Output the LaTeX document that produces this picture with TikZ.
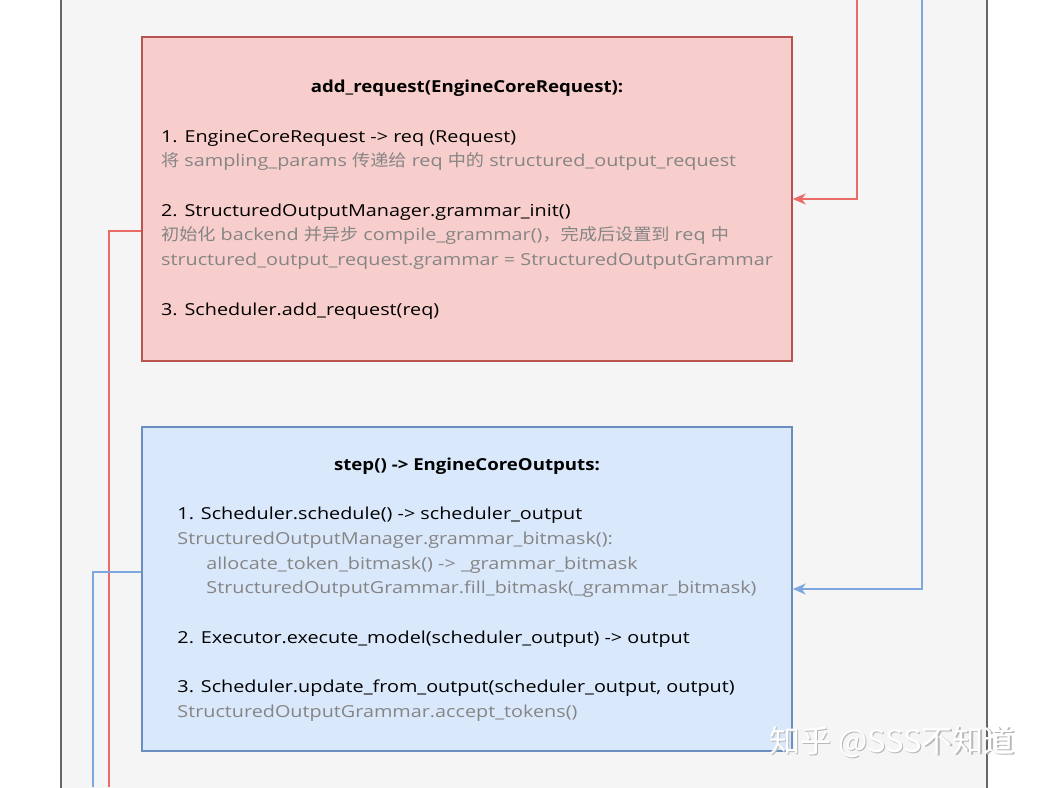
\documentclass[tikz,border=0pt]{standalone}
\usepackage{fontspec}
\setmainfont{Open Sans}[FakeStretch=1.2]
\newfontfamily\headfont{Open Sans}[FakeStretch=1.13]
\newfontfamily\cjk{Noto Sans CJK SC}[FakeStretch=1.1]
\newfontfamily\markfont{Noto Sans CJK SC}
\usetikzlibrary{arrows.meta}

\definecolor{panelfill}{HTML}{F5F5F5}
\definecolor{panelline}{HTML}{666666}
\definecolor{redfill}{HTML}{F8CECC}
\definecolor{redline}{HTML}{B85450}
\definecolor{redwire}{HTML}{EA6B66}
\definecolor{bluefill}{HTML}{DAE8FC}
\definecolor{blueline}{HTML}{6C8EBF}
\definecolor{bluewire}{HTML}{7EA6E0}
\definecolor{notegray}{HTML}{858585}

\newcommand{\zh}[1]{{\cjk #1}}
\newcommand{\grey}[1]{\textcolor{notegray}{#1}}
\newcommand{\head}[1]{{\headfont\bfseries #1}}

\begin{document}
\begin{tikzpicture}[x=1pt,y=-1pt,
  codebox/.style={rectangle,line width=1.5pt,minimum width=650pt,minimum height=324pt,inner sep=0pt,
    font=\fontsize{16.5}{24.7}\selectfont},
  wire/.style={line width=1.3pt},
  tip/.style={-{Stealth[length=13pt,width=11pt,inset=4pt]}}]
  \useasboundingbox (0,0) rectangle (1048,787);
  \fill[white] (0,0) rectangle (1048,787);
  \draw[fill=panelfill,draw=panelline,line width=1.5pt] (61,-20) rectangle (987,807);

  \node[codebox,fill=redfill,draw=redline] (addreq) at (467,199) {%
    \begin{tabular}{@{}l@{}}
      \multicolumn{1}{@{}c@{}}{\head{add\_request(EngineCoreRequest):}}\\
      \\
      1. EngineCoreRequest -> req (Request)\\
      \grey{\zh{将} sampling\_params \zh{传递给} req \zh{中的} structured\_output\_request}\\
      \\
      2. StructuredOutputManager.grammar\_init()\\
      \grey{\zh{初始化} backend \zh{并异步} compile\_grammar()\zh{，完成后设置到} req \zh{中}}\\
      \grey{structured\_output\_request.grammar = StructuredOutputGrammar}\\
      \\
      3. Scheduler.add\_request(req)
    \end{tabular}};

  \node[codebox,fill=bluefill,draw=blueline] (step) at (467,589) {%
    \begin{tabular}{@{}l@{}}
      \multicolumn{1}{@{}c@{}}{\head{step() -> EngineCoreOutputs:}}\\
      \\
      1. Scheduler.schedule() -> scheduler\_output\\
      \grey{StructuredOutputManager.grammar\_bitmask():}\\
      \hspace*{29pt}\grey{allocate\_token\_bitmask() -> \_grammar\_bitmask}\\
      \hspace*{29pt}\grey{StructuredOutputGrammar.fill\_bitmask(\_grammar\_bitmask)}\\
      \\
      2. Executor.execute\_model(scheduler\_output) -> output\\
      \\
      3. Scheduler.update\_from\_output(scheduler\_output, output)\\
      \grey{StructuredOutputGrammar.accept\_tokens()}
    \end{tabular}};

  \coordinate (redtop) at (857,0);
  \coordinate (bluetop) at (922,0);
  \coordinate (redbottom) at (109,787);
  \coordinate (bluebottom) at (93,787);

  \draw[wire,redwire,tip] (redtop) |- (addreq.east);
  \draw[wire,bluewire,tip] (bluetop) |- (step.east);
  \draw[wire,redwire] ([yshift=-32pt]addreq.west) -| (redbottom);
  \draw[wire,bluewire] ([yshift=17pt]step.west) -| (bluebottom);

  \node[text=gray!55,font=\markfont\fontsize{31}{34}\selectfont] (markshadow) at (893.5,743.5) {知乎 @SSS不知道};
  \node[text=white,font=\markfont\fontsize{31}{34}\selectfont] (mark) at (892,742) {知乎 @SSS不知道};
\end{tikzpicture}
\end{document}
